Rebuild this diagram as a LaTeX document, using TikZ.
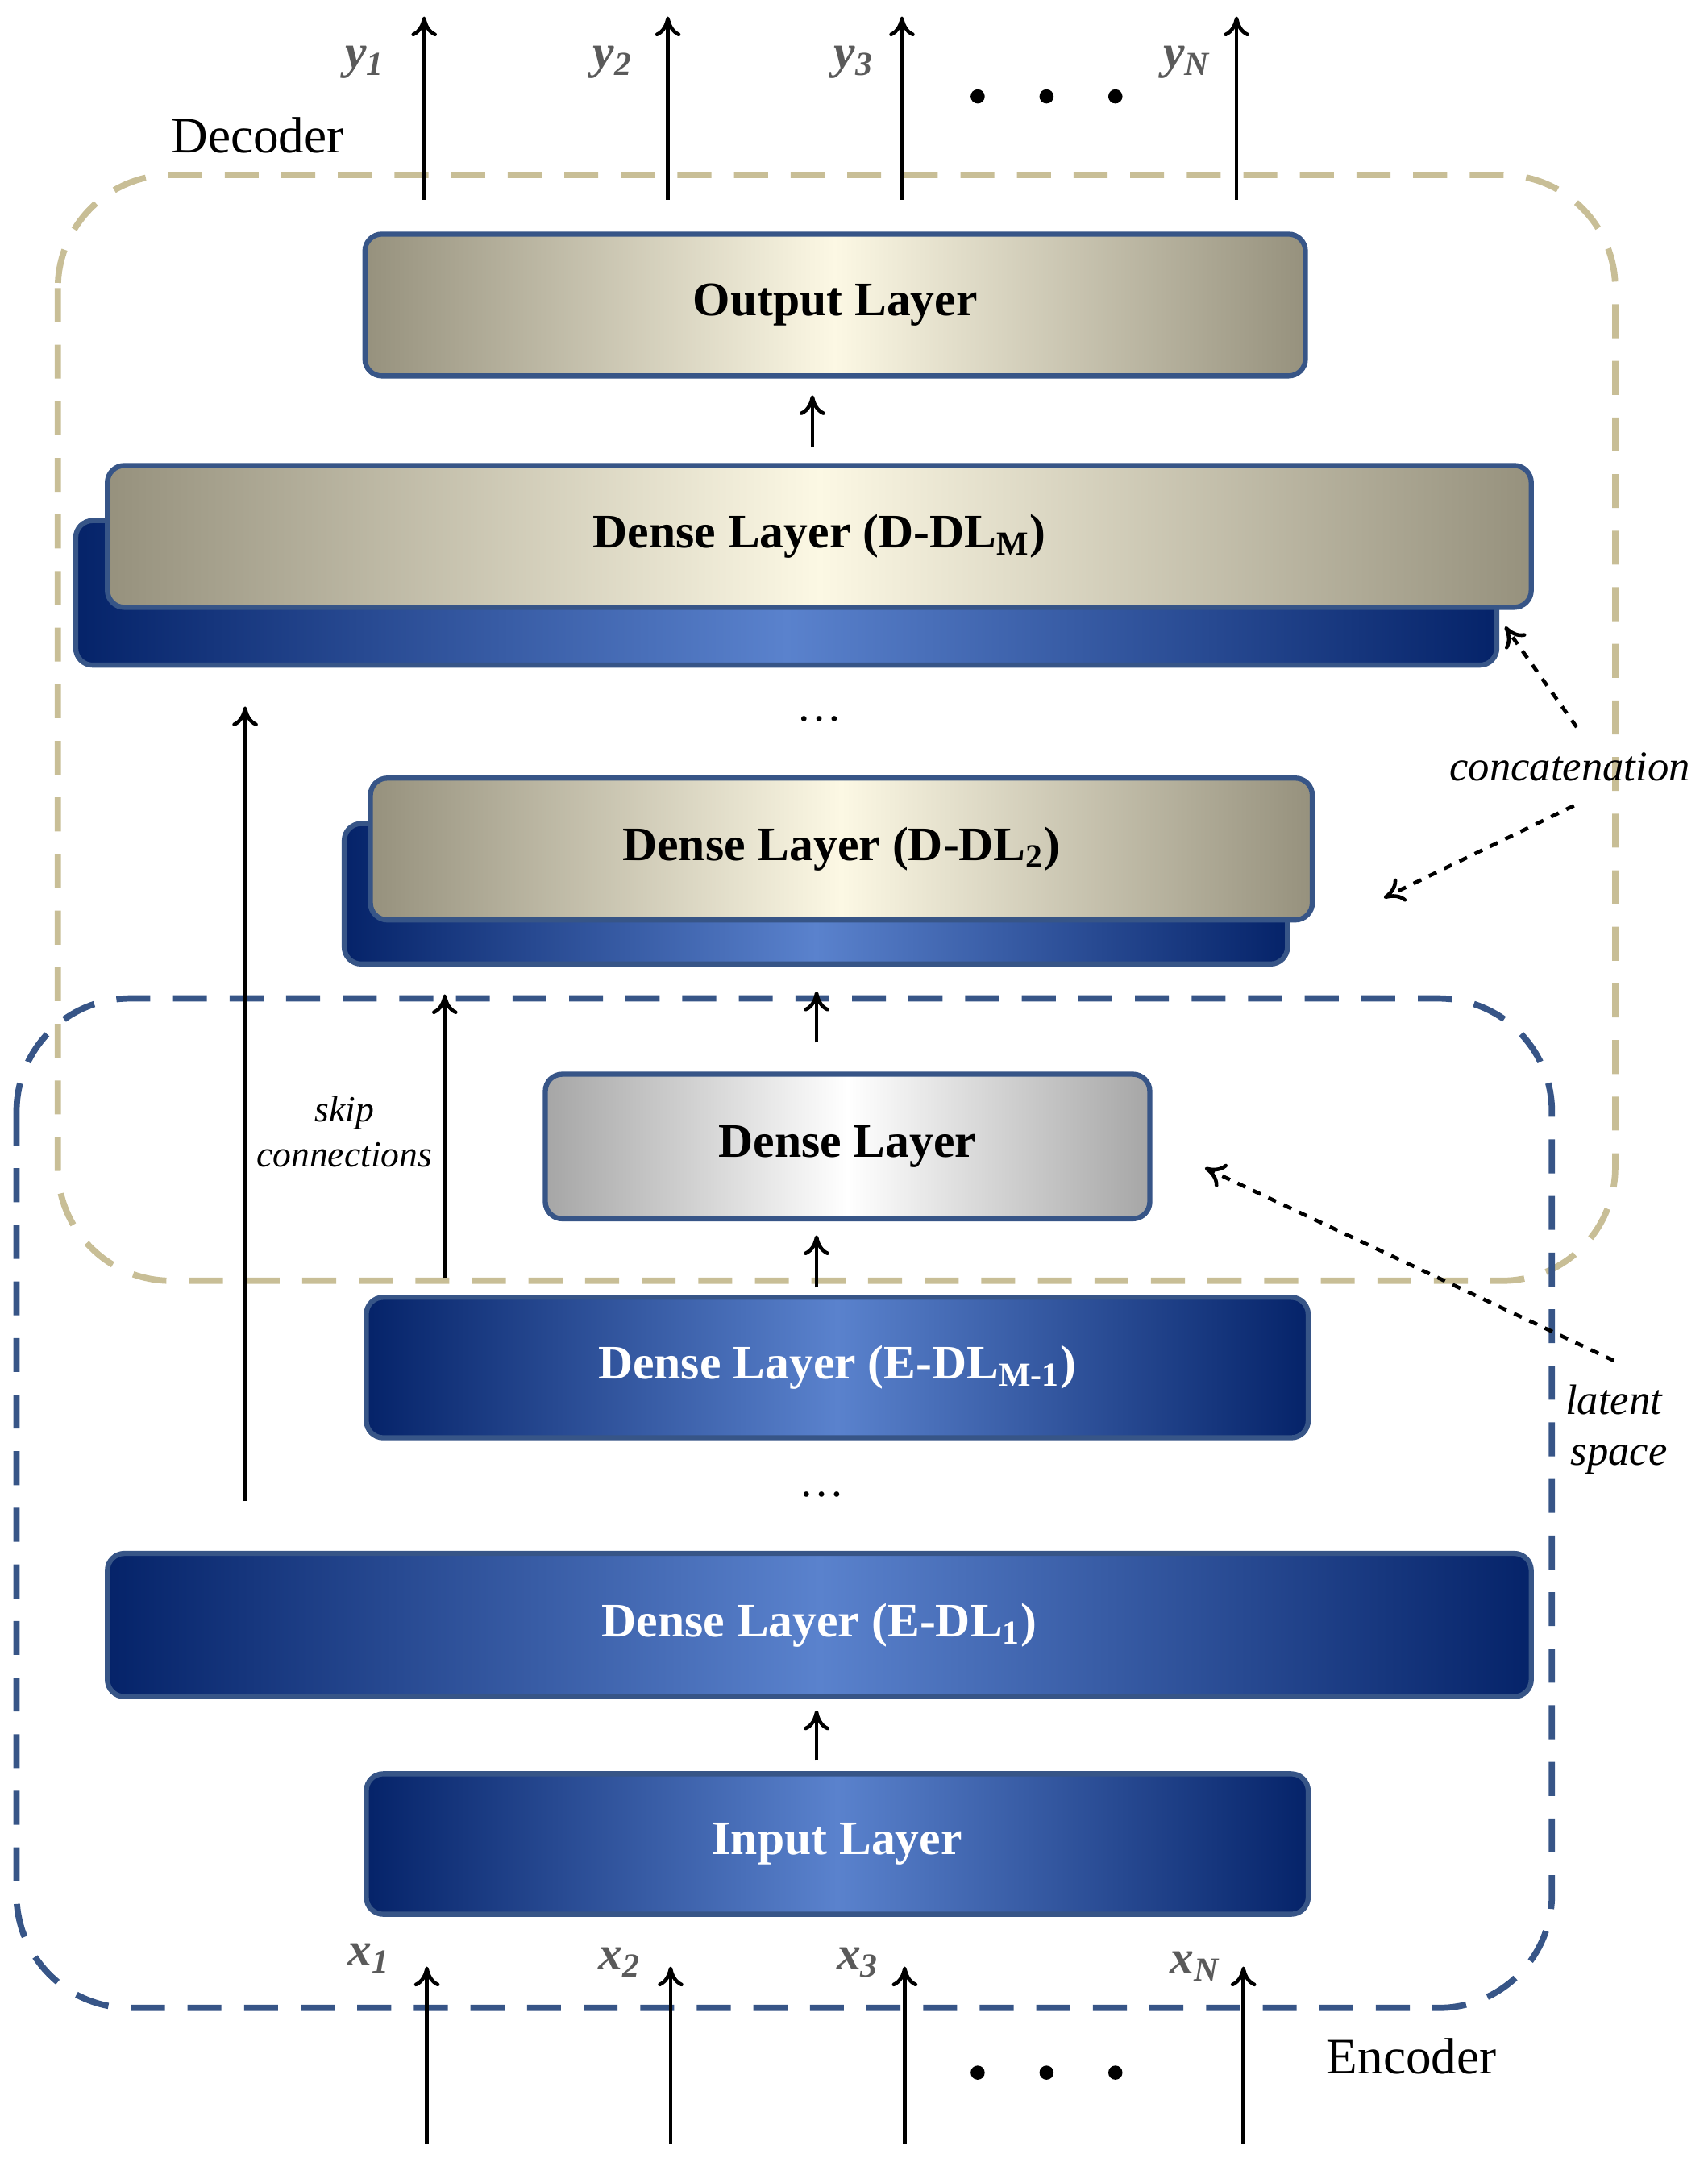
\documentclass[tikz,border=0pt]{standalone}
\usepackage{fontspec}
\setmainfont{Liberation Serif}
\usetikzlibrary{arrows.meta}
\definecolor{navy}{RGB}{5,35,105}
\definecolor{midblue}{RGB}{90,130,205}
\definecolor{edgeblue}{RGB}{55,85,135}
\definecolor{tan}{RGB}{200,190,150}
\definecolor{beigedark}{RGB}{150,145,125}
\definecolor{cream}{RGB}{252,248,228}
\definecolor{lblgray}{RGB}{90,90,90}
\begin{document}
\begin{tikzpicture}[x=0.0171cm,y=-0.0171cm,
 box/.style={draw=edgeblue,line width=1.8pt,rounded corners=6pt},
 bluebox/.style={box,left color=navy,right color=navy,middle color=midblue},
 beigebox/.style={box,left color=beigedark,right color=beigedark,middle color=cream},
 graybox/.style={box,left color=gray!70,right color=gray!70,middle color=white},
 wtxt/.style={font=\fontsize{17}{20}\selectfont\bfseries,text=white},
 btxt/.style={font=\fontsize{17}{20}\selectfont\bfseries,text=black},
 arr/.style={-{Stealth[length=9pt,open]},line width=1.3pt,arrows={-{To[length=7pt,width=9pt]}}},
 darr/.style={arr,dashed},
 vlab/.style={font=\fontsize{17}{20}\selectfont\bfseries\itshape,text=lblgray},
 ilab/.style={font=\fontsize{13}{16}\selectfont\itshape,align=center}]
\useasboundingbox (0,0) rectangle (1240,1567);
% group boxes
\draw[tan,line width=2.2pt,dash pattern=on 12pt off 8pt,rounded corners=40pt] (42,127) rectangle (1173,930);
\draw[edgeblue,line width=2.2pt,dash pattern=on 12pt off 8pt,rounded corners=40pt] (12,725) rectangle (1127,1458);
\node[font=\fontsize{18}{20}\selectfont] (dec) at (187,98) {Decoder};
\node[font=\fontsize{18}{20}\selectfont] (enc) at (1025,1493) {Encoder};
% layers
\draw[beigebox] (265,170) rectangle (948,273) node[midway,btxt] (out) {Output Layer};
\draw[bluebox] (55,378) rectangle (1087,483);
\draw[beigebox] (78,338) rectangle (1112,441) node[midway,btxt] (dm) {Dense Layer (D-DL\textsubscript{M})};
\node (dots1) at (595,522) {\fontsize{16}{18}\selectfont\dots};
\draw[bluebox] (250,598) rectangle (935,700);
\draw[beigebox] (269,565) rectangle (953,668) node[midway,btxt] (d2) {Dense Layer (D-DL\textsubscript{2})};
\draw[graybox] (396,780) rectangle (835,885) node[midway,btxt] (lat) {Dense Layer};
\draw[bluebox] (266,942) rectangle (950,1044) node[midway,wtxt] (em) {Dense Layer (E-DL\textsubscript{M-1})};
\node (dots2) at (597,1085) {\fontsize{16}{18}\selectfont\dots};
\draw[bluebox] (78,1128) rectangle (1112,1232) node[midway,wtxt] (e1) {Dense Layer (E-DL\textsubscript{1})};
\draw[bluebox] (266,1288) rectangle (950,1390) node[midway,wtxt] (in) {Input Layer};
% internal arrows
\coordinate (a1s) at (590,325); \coordinate (a1e) at (590,287);
\draw[arr] (a1s) -- (a1e);
\coordinate (a2s) at (593,757); \coordinate (a2e) at (593,720);
\draw[arr] (a2s) -- (a2e);
\coordinate (a3s) at (593,935); \coordinate (a3e) at (593,897);
\draw[arr] (a3s) -- (a3e);
\coordinate (a4s) at (593,1278); \coordinate (a4e) at (593,1242);
\draw[arr] (a4s) -- (a4e);
% skip
\coordinate (s1s) at (178,1090); \coordinate (s1e) at (178,513);
\draw[arr] (s1s) -- (s1e);
\coordinate (s2s) at (323,928); \coordinate (s2e) at (323,722);
\draw[arr] (s2s) -- (s2e);
\node[ilab] (skip) at (250,822) {skip\\connections};
% outputs
\foreach \x/\n/\lx in {308/1/265,485/2/445,655/3/620,898/N/862}{
 \coordinate (o\n s) at (\x,145); \coordinate (o\n e) at (\x,12);
 \draw[arr] (o\n s) -- (o\n e);
 \node[vlab] (yl\n) at (\lx,45) {y\textsubscript{\n}};
}
\foreach \x/\n/\lx/\ly in {310/1/268/1422,487/2/450/1425,657/3/623/1425,903/N/868/1428}{
 \coordinate (i\n s) at (\x,1557); \coordinate (i\n e) at (\x,1428);
 \draw[arr] (i\n s) -- (i\n e);
 \node[vlab] (xl\n) at (\lx,\ly) {x\textsubscript{\n}};
}
\foreach \x in {710,760,810}{\fill (\x,70) circle (2.5pt); \fill (\x,1505) circle (2.5pt);}
% annotations
\node[ilab,font=\fontsize{15}{18}\selectfont\itshape] (concat) at (1140,557) {concatenation};
\coordinate (c1s) at (1145,528); \coordinate (c1e) at (1093,455);
\coordinate (c2s) at (1143,585); \coordinate (c2e) at (1005,652);
\draw[darr] (c1s) -- (c1e);
\draw[darr] (c2s) -- (c2e);
\node[ilab,font=\fontsize{15}{18}\selectfont\itshape] (lsp) at (1172,1038) {latent\\\ space};
\coordinate (l1s) at (1172,988); \coordinate (l1e) at (875,848);
\draw[darr] (l1s) -- (l1e);
\end{tikzpicture}
\end{document}
